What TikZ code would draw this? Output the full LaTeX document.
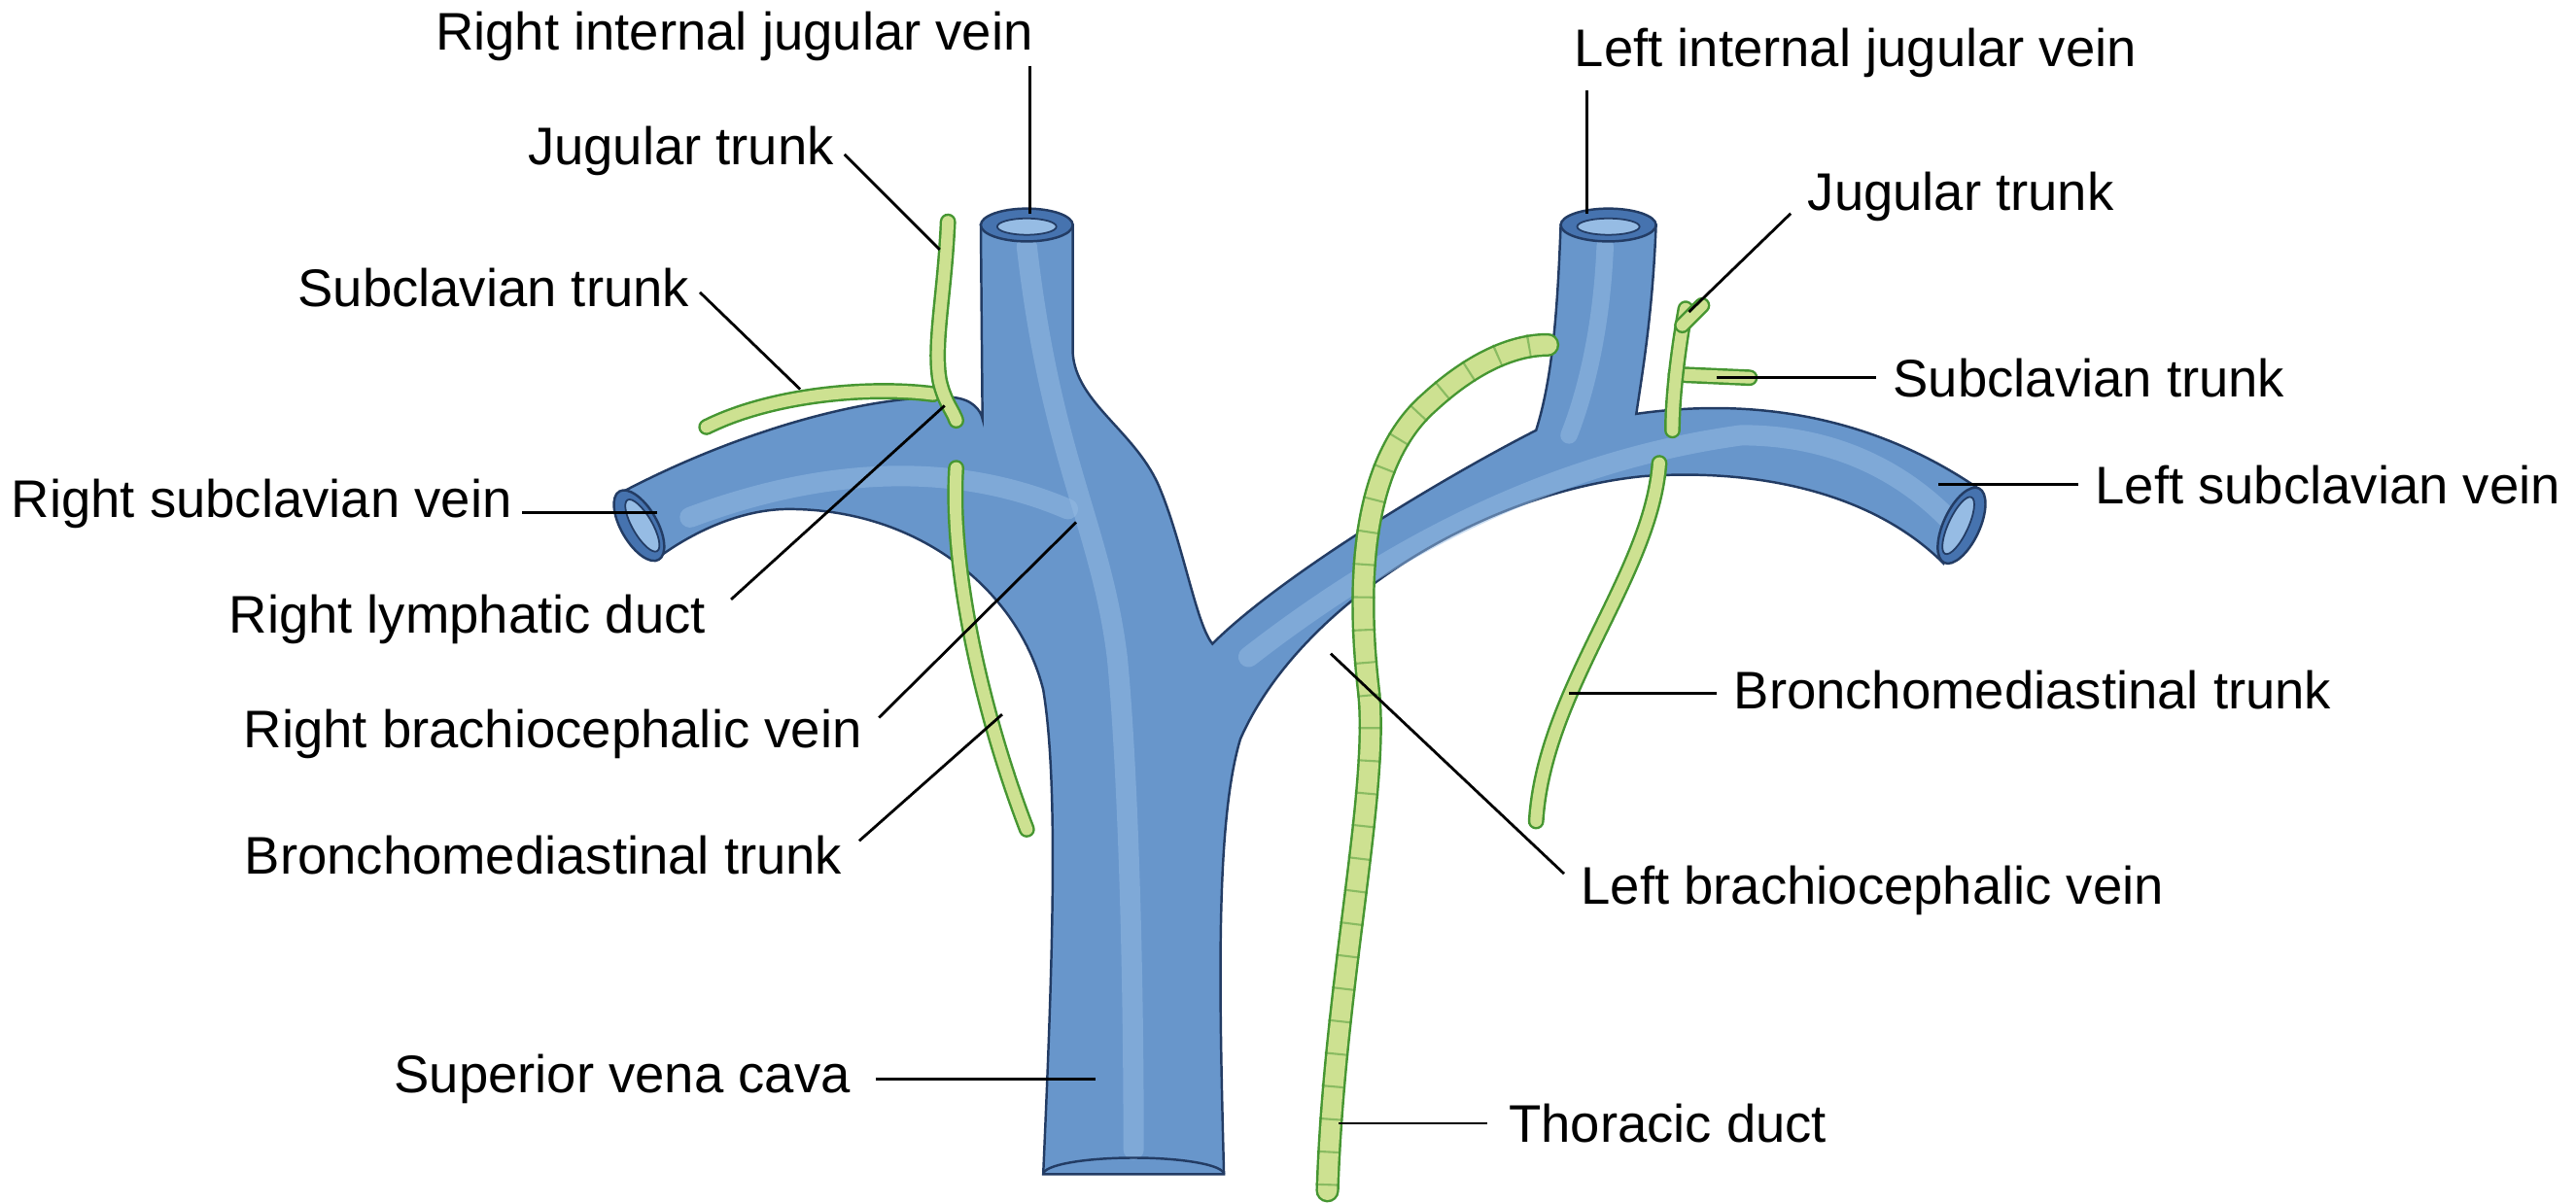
\documentclass[tikz,border=0pt]{standalone}
\usepackage{fontspec}
\setmainfont{Liberation Sans}
\definecolor{veinfill}{RGB}{104,150,203}
\definecolor{veinlight}{RGB}{150,188,228}
\definecolor{veindark}{RGB}{35,60,100}
\definecolor{veinin}{RGB}{70,115,175}
\definecolor{ductgreen}{RGB}{205,225,145}
\definecolor{ductdark}{RGB}{70,150,50}
\begin{document}
\begin{tikzpicture}[x=0.0169cm,y=-0.0169cm,
  vein/.style={fill=veinfill,draw=veindark,line width=0.7pt},
  opening/.style={fill=veinin,draw=veindark,line width=0.7pt},
  duct/.style={draw=ductdark,double=ductgreen,double distance=3.4pt,line width=0.7pt,line cap=round},
  bigduct/.style={draw=ductdark,double=ductgreen,double distance=5.5pt,line width=0.7pt,line cap=round},
  lbl/.style={font=\fontsize{15.5}{18}\selectfont,inner sep=0pt},
  leader/.style={draw=black,line width=0.8pt}]
\useasboundingbox (0,0) rectangle (1568,732);
% veins
\path[vein] (378,300) .. controls (450,262) and (530,240) .. (580,242) .. controls (592,243) and (597,250) .. (598,255) -- (597,137) -- (653,137)
  -- (653,215) .. controls (655,245) and (690,262) .. (705,295)
  .. controls (720,330) and (728,380) .. (738,392)
  .. controls (780,350) and (880,290) .. (935,262)
  .. controls (945,230) and (948,190) .. (950,137) -- (1008,137)
  .. controls (1006,190) and (1000,225) .. (996,252)
  .. controls (1080,240) and (1150,260) .. (1205,298) -- (1183,343)
  .. controls (1140,300) and (1070,285) .. (1000,290)
  .. controls (900,300) and (790,370) .. (755,450)
  .. controls (740,500) and (742,600) .. (745,715) -- (635,715)
  .. controls (640,600) and (645,480) .. (635,420)
  .. controls (620,360) and (560,310) .. (480,310)
  .. controls (450,310) and (420,325) .. (400,340) -- cycle;
% highlights
\draw[veinlight,line width=6pt,opacity=0.5,line cap=round] (690,700) .. controls (690,560) and (685,450) .. (680,400) .. controls (670,320) and (640,280) .. (625,150);
\draw[veinlight,line width=6pt,opacity=0.5,line cap=round] (420,315) .. controls (500,285) and (580,280) .. (650,310);
\draw[veinlight,line width=6pt,opacity=0.5,line cap=round] (760,400) .. controls (850,330) and (950,280) .. (1060,265) .. controls (1120,265) and (1160,290) .. (1185,315);
\draw[veinlight,line width=5pt,opacity=0.5,line cap=round] (977,150) .. controls (975,200) and (965,240) .. (955,265);
% openings
\path[opening] (625,137) ellipse [x radius=28, y radius=10];
\path[fill=veinlight,draw=veindark,line width=0.5pt] (625,138) ellipse [x radius=18, y radius=5];
\path[opening] (979,137) ellipse [x radius=29, y radius=10];
\path[fill=veinlight,draw=veindark,line width=0.5pt] (979,138) ellipse [x radius=19, y radius=5];
\path[opening] (389,320) ellipse [x radius=11, y radius=24, rotate=30];
\path[fill=veinlight,draw=veindark,line width=0.5pt] (391,320) ellipse [x radius=6, y radius=18, rotate=30];
\path[opening] (1194,320) ellipse [x radius=11, y radius=25, rotate=-25];
\path[fill=veinlight,draw=veindark,line width=0.5pt] (1192,320) ellipse [x radius=6, y radius=19, rotate=-25];
\draw[veindark,line width=0.7pt] (635,715) arc[start angle=180,end angle=360,x radius=55,y radius=10];
% ducts right
\draw[duct] (582,285) .. controls (578,350) and (600,440) .. (625,505);
\draw[duct] (430,260) .. controls (470,240) and (530,235) .. (568,240);
\draw[duct] (577,135) .. controls (575,180) and (568,210) .. (572,232) .. controls (575,245) and (580,250) .. (582,256);
% thoracic duct
\draw[bigduct] (808,725) .. controls (812,600) and (840,480) .. (833,420) .. controls (825,350) and (830,280) .. (870,245) .. controls (895,222) and (920,210) .. (942,210);
\draw[ductdark,line width=7pt,dash pattern=on 0.6pt off 9pt,opacity=0.5] (808,722) .. controls (812,600) and (840,480) .. (833,420) .. controls (825,350) and (830,280) .. (870,245) .. controls (895,222) and (920,210) .. (940,210);
% ducts left
\draw[duct] (1010,282) .. controls (1005,350) and (940,420) .. (935,500);
\draw[duct] (1020,228) -- (1065,230);
\draw[duct] (1026,188) .. controls (1022,210) and (1018,240) .. (1018,262);
\draw[duct] (1024,198) -- (1036,186);
% labels
\node[lbl] (l1) at (447,22) {Right internal jugular vein};
\node[lbl,anchor=east] (l2) at (508,92) {Jugular trunk};
\node[lbl,anchor=east] (l3) at (420,175) {Subclavian trunk};
\node[lbl,anchor=east] (l4) at (312,307) {Right subclavian vein};
\node[lbl,anchor=east] (l5) at (430,377) {Right lymphatic duct};
\node[lbl,anchor=east] (l6) at (525,447) {Right brachiocephalic vein};
\node[lbl,anchor=east] (l7) at (513,521) {Bronchomediastinal trunk};
\node[lbl,anchor=east] (l8) at (518,657) {Superior vena cava};
\node[lbl,anchor=west] (l9) at (958,32) {Left internal jugular vein};
\node[lbl,anchor=west] (l10) at (1100,120) {Jugular trunk};
\node[lbl,anchor=west] (l11) at (1152,230) {Subclavian trunk};
\node[lbl,anchor=west] (l12) at (1275,295) {Left subclavian vein};
\node[lbl,anchor=west] (l13) at (1055,420) {Bronchomediastinal trunk};
\node[lbl,anchor=west] (l14) at (962,542) {Left brachiocephalic vein};
\node[lbl,anchor=west] (l15) at (918,684) {Thoracic duct};
% leader targets
\coordinate (t1) at (627,130); \coordinate (s1) at (627,40);
\coordinate (t2) at (572,152); \coordinate (s2) at (514,94);
\coordinate (t3) at (487,237); \coordinate (s3) at (426,178);
\coordinate (t4) at (400,312); \coordinate (s4) at (318,312);
\coordinate (t5) at (575,247); \coordinate (s5) at (445,365);
\coordinate (t6) at (655,318); \coordinate (s6) at (535,437);
\coordinate (t7) at (610,435); \coordinate (s7) at (523,512);
\coordinate (t8) at (667,657); \coordinate (s8) at (533,657);
\coordinate (t9) at (966,130); \coordinate (s9) at (966,55);
\coordinate (t10) at (1028,190); \coordinate (s10) at (1090,130);
\coordinate (t11) at (1045,230); \coordinate (s11) at (1142,230);
\coordinate (t12) at (1180,295); \coordinate (s12) at (1265,295);
\coordinate (t13) at (955,422); \coordinate (s13) at (1045,422);
\coordinate (t14) at (810,398); \coordinate (s14) at (952,532);
\coordinate (t15) at (815,684); \coordinate (s15) at (905,684);
\foreach \i in {1,...,15} {\draw[leader] (s\i) -- (t\i);}
\end{tikzpicture}
\end{document}
